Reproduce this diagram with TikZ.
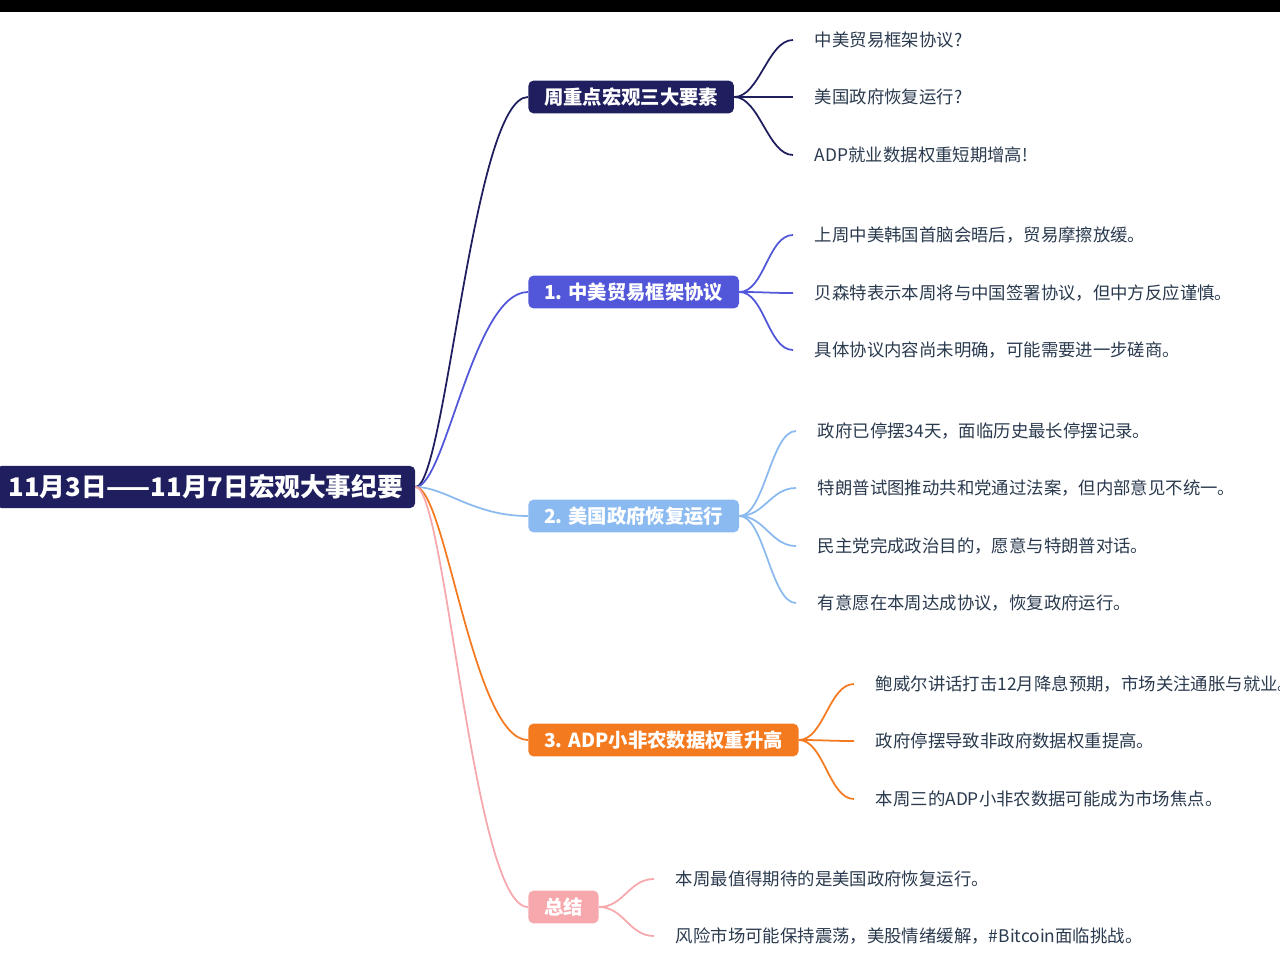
\documentclass[tikz,border=0pt]{standalone}
\usepackage{fontspec}
\setmainfont{Noto Sans CJK SC}
\usepackage{xcolor}
\usetikzlibrary{calc}
\definecolor{navy}{HTML}{1F1E5E}
\definecolor{indigo}{HTML}{5157D8}
\definecolor{skyblue}{HTML}{8BBAF0}
\definecolor{orangebr}{HTML}{F47A20}
\definecolor{pinkbr}{HTML}{F6A8AC}
\definecolor{leafink}{HTML}{2A3A4E}
\tikzset{
  rootbox/.style={fill=navy,text=white,rounded corners=3pt,anchor=west,
                  minimum height=24pt,inner xsep=7pt,
                  font=\fontsize{14.6}{16}\selectfont\bfseries},
  topicbox/.style={fill=#1,text=white,rounded corners=3pt,anchor=west,
                   minimum height=18.7pt,inner xsep=9pt,
                   font=\fontsize{11}{13}\selectfont\bfseries},
  leaf/.style={text=leafink,anchor=west,inner sep=2pt,
               font=\fontsize{9.9}{11}\selectfont},
  link/.style={draw=#1,line width=1pt}
}

\begin{document}
\begin{tikzpicture}[x=0.02cm,y=-0.02cm]
  \useasboundingbox (0,0) rectangle (1280,959);
  \clip (0,0) rectangle (1280,959);
  \fill[black] (0,0) rectangle (1280,12);
  % root and topics
  \node[rootbox] (root) at (-4,487) {11月3日——11月7日宏观大事纪要};
  \node[topicbox=navy] (focus) at (528,97) {周重点宏观三大要素};
  \node[topicbox=indigo] (trade) at (528,292) {1. 中美贸易框架协议};
  \node[topicbox=skyblue] (gov) at (528,516) {2. 美国政府恢复运行};
  \node[topicbox=orangebr] (adp) at (528,740) {3. ADP小非农数据权重升高};
  \node[topicbox=pinkbr] (summ) at (528,907) {总结};
  \foreach \t/\c in {focus/navy,trade/indigo,gov/skyblue,adp/orangebr,summ/pinkbr}
    \draw[link=\c] (root.east) .. controls +(30,0) and +(-55,0) .. (\t.west);
  % leaves
  \foreach \y/\txt [count=\i] in {40/中美贸易框架协议?,97/美国政府恢复运行?,155/ADP就业数据权重短期增高!} {
    \node[leaf] (focus-\i) at (811,\y) {\txt};
    \draw[link=navy] (focus.east) .. controls +(25,0) and +(-25,0) .. ($(focus-\i.west)+(-18,0)$);
  }
  \foreach \y/\txt [count=\i] in {235/上周中美韩国首脑会晤后，贸易摩擦放缓。,293/贝森特表示本周将与中国签署协议，但中方反应谨慎。,350/具体协议内容尚未明确，可能需要进一步磋商。} {
    \node[leaf] (trade-\i) at (811,\y) {\txt};
    \draw[link=indigo] (trade.east) .. controls +(25,0) and +(-25,0) .. ($(trade-\i.west)+(-18,0)$);
  }
  \foreach \y/\txt [count=\i] in {431/政府已停摆34天，面临历史最长停摆记录。,488/特朗普试图推动共和党通过法案，但内部意见不统一。,546/民主党完成政治目的，愿意与特朗普对话。,603/有意愿在本周达成协议，恢复政府运行。} {
    \node[leaf] (gov-\i) at (814,\y) {\txt};
    \draw[link=skyblue] (gov.east) .. controls +(25,0) and +(-25,0) .. ($(gov-\i.west)+(-18,0)$);
  }
  \foreach \y/\txt [count=\i] in {684/鲍威尔讲话打击12月降息预期，市场关注通胀与就业。,741/政府停摆导致非政府数据权重提高。,799/本周三的ADP小非农数据可能成为市场焦点。} {
    \node[leaf] (adp-\i) at (872,\y) {\txt};
    \draw[link=orangebr] (adp.east) .. controls +(25,0) and +(-25,0) .. ($(adp-\i.west)+(-18,0)$);
  }
  \foreach \y/\txt [count=\i] in {879/本周最值得期待的是美国政府恢复运行。,936/风险市场可能保持震荡，美股情绪缓解，\#Bitcoin面临挑战。} {
    \node[leaf] (summ-\i) at (672,\y) {\txt};
    \draw[link=pinkbr] (summ.east) .. controls +(25,0) and +(-25,0) .. ($(summ-\i.west)+(-18,0)$);
  }
\end{tikzpicture}
\end{document}
